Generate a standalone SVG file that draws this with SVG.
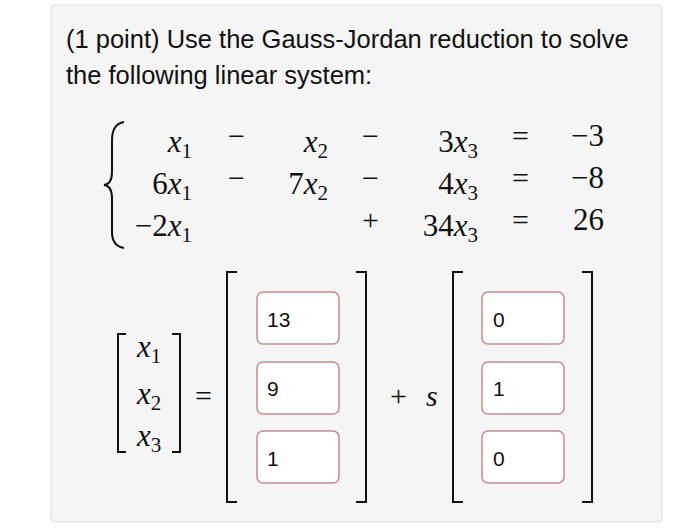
<svg xmlns="http://www.w3.org/2000/svg" width="700" height="532" viewBox="0 0 700 532">
<style>
.t{font-family:"Liberation Sans",Arial,sans-serif;font-size:25.5px;fill:#111}
.m{font-family:"Liberation Serif","Times New Roman",serif;font-size:31px;fill:#111}
.i{font-style:italic}
.sub{font-size:21px;font-style:normal}
.op{font-family:"Liberation Serif","Times New Roman",serif;font-size:30px;fill:#111}
.br{fill:none;stroke:#111;stroke-width:2}
.box{fill:#fff;stroke:#c98a8a;stroke-width:1.5}
.bt{font-family:"Liberation Sans",Arial,sans-serif;font-size:21px;fill:#111}
</style>
<rect x="0" y="0" width="700" height="532" fill="#fff"/>
<rect x="51" y="5" width="611" height="517" rx="4" fill="#f5f5f5" stroke="#ddd"/>
<text class="t" x="66" y="48">(1 point) Use the Gauss-Jordan reduction to solve</text>
<text class="t" x="66" y="84">the following linear system:</text>
<g id="system">
<path class="br" d="M124,122 Q112,124 112,140 L112,172 Q112,184 104,185 Q112,186 112,198 L112,232 Q112,246 124,248" stroke-width="2.5"/>
<g class="m" text-anchor="end">
<text x="192" y="152"><tspan class="i">x</tspan><tspan class="sub" dy="6">1</tspan></text>
<text x="328" y="152"><tspan class="i">x</tspan><tspan class="sub" dy="6">2</tspan></text>
<text x="478" y="152">3<tspan class="i">x</tspan><tspan class="sub" dy="6">3</tspan></text>
<text x="604" y="146">−3</text>
<text x="192" y="194">6<tspan class="i">x</tspan><tspan class="sub" dy="6">1</tspan></text>
<text x="328" y="194">7<tspan class="i">x</tspan><tspan class="sub" dy="6">2</tspan></text>
<text x="478" y="194">4<tspan class="i">x</tspan><tspan class="sub" dy="6">3</tspan></text>
<text x="604" y="188">−8</text>
<text x="192" y="236">−2<tspan class="i">x</tspan><tspan class="sub" dy="6">1</tspan></text>
<text x="478" y="236">34<tspan class="i">x</tspan><tspan class="sub" dy="6">3</tspan></text>
<text x="604" y="230">26</text>
</g>
<text class="op" y="146"><tspan x="228">−</tspan><tspan x="362">−</tspan><tspan x="512">=</tspan></text>
<text class="op" y="188"><tspan x="228">−</tspan><tspan x="362">−</tspan><tspan x="512">=</tspan></text>
<text class="op" y="230"><tspan x="362">+</tspan><tspan x="512">=</tspan></text>
</g>
<g id="lhs">
<path class="br" d="M126,334 L118,334 L118,452 L126,452"/>
<path class="br" d="M172,334 L180,334 L180,452 L172,452"/>
<g class="m">
<text x="137" y="357"><tspan class="i">x</tspan><tspan class="sub" dy="6">1</tspan></text>
<text x="137" y="404"><tspan class="i">x</tspan><tspan class="sub" dy="6">2</tspan></text>
<text x="137" y="446"><tspan class="i">x</tspan><tspan class="sub" dy="6">3</tspan></text>
</g>
<text class="op" y="406"><tspan x="195">=</tspan><tspan x="390">+</tspan><tspan x="426" font-style="italic">s</tspan></text>
</g>
<g id="vec1">
<path class="br" d="M237,272 L227,272 L227,502 L237,502"/>
<path class="br" d="M356,272 L366,272 L366,502 L356,502"/>
<rect class="box" x="257" y="292" width="82" height="52" rx="6"/>
<rect class="box" x="257" y="362" width="82" height="52" rx="6"/>
<rect class="box" x="257" y="431" width="82" height="52" rx="6"/>
<text class="bt" x="267" y="327">13</text>
<text class="bt" x="267" y="396">9</text>
<text class="bt" x="267" y="466">1</text>
</g>
<g id="vec2">
<path class="br" d="M463,272 L453,272 L453,502 L463,502"/>
<path class="br" d="M582,272 L592,272 L592,502 L582,502"/>
<rect class="box" x="482" y="292" width="82" height="52" rx="6"/>
<rect class="box" x="482" y="362" width="82" height="52" rx="6"/>
<rect class="box" x="482" y="431" width="82" height="52" rx="6"/>
<text class="bt" x="493" y="327">0</text>
<text class="bt" x="493" y="396">1</text>
<text class="bt" x="493" y="466">0</text>
</g>
</svg>
